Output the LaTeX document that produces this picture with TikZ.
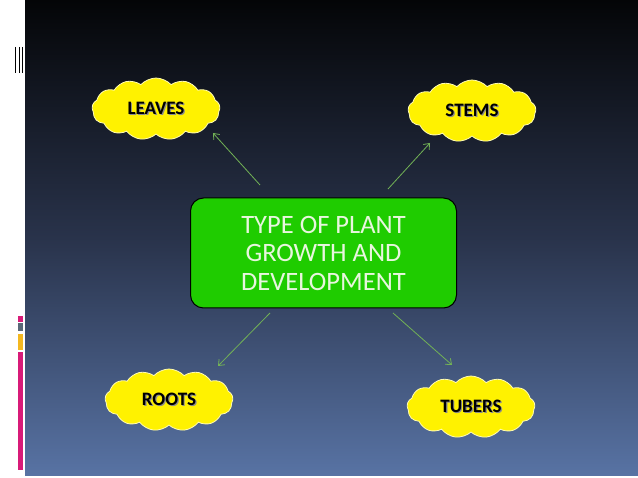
\documentclass[tikz,border=0pt]{standalone}
\usepackage{fontspec}
\setmainfont{Carlito}
\usetikzlibrary{shapes.symbols,arrows.meta}
\definecolor{bgtop}{HTML}{040507}
\definecolor{bgmid}{HTML}{29334B}
\definecolor{bgbot}{HTML}{5873A4}
\definecolor{boxgreen}{HTML}{1FCC00}
\definecolor{boxtext}{HTML}{E8F6DE}
\definecolor{arrowgreen}{HTML}{72B256}
\definecolor{barpink}{HTML}{D81B78}
\definecolor{bargrey}{HTML}{5A6878}
\definecolor{barorange}{HTML}{F4B820}
\newcommand\shtxt[1]{\makebox[0pt][l]{\raisebox{-1.2pt}{\hspace{1.2pt}\textcolor{black!45}{#1}}}#1}
\tikzset{
  puffy/.style={cloud, cloud puffs=13, cloud puff arc=95, aspect=2,
    fill=yellow, draw=yellow!30!white, line width=0.8pt,
    minimum width=128pt, minimum height=62pt, inner sep=0pt,
    font=\fontsize{19}{22}\selectfont\bfseries, text=black},
  mainbox/.style={rectangle, rounded corners=13pt, fill=boxgreen, draw=black, line width=1pt,
    minimum width=266pt, minimum height=110pt, align=center, text=boxtext,
    font=\fontsize{26.5}{28.5}\selectfont},
  link/.style={draw=arrowgreen, line width=0.8pt, -{Straight Barb[length=5pt,width=8pt]}}
}
\begin{document}
\begin{tikzpicture}[x=1pt,y=-1pt]
\useasboundingbox (0,0) rectangle (638,478);
\fill[white] (0,0) rectangle (638,478);
\shade[top color=bgtop, bottom color=bgbot, middle color=bgmid] (25,0) rectangle (638,476);
% left decorations
\foreach \xx in {15.5,19,22.5} \draw[black, line width=1pt] (\xx,47) -- (\xx,73);
\fill[barpink] (17.5,316.5) rectangle (23,322);
\fill[bargrey] (17.5,323.5) rectangle (23,331.5);
\fill[barorange] (17.5,334) rectangle (23,350);
\fill[barpink] (17.5,352) rectangle (23,470);
% nodes
\node[mainbox] (core) at (323.5,253) {TYPE OF PLANT\\GROWTH AND\\DEVELOPMENT};
\node[puffy] (leaves) at (156,109) {\shtxt{LEAVES}\hspace{10pt}};
\node[puffy] (stems) at (472,111) {\shtxt{STEMS}\hspace{4pt}};
\node[puffy] (roots) at (169,400) {\shtxt{ROOTS}\hspace{10pt}};
\node[puffy] (tubers) at (471,407) {\shtxt{TUBERS}\hspace{4pt}};
% arrow start points
\coordinate (s1) at (260,185);
\coordinate (e1) at (213,133);
\coordinate (s2) at (388,189);
\coordinate (e2) at (430,143);
\coordinate (s3) at (270,313);
\coordinate (e3) at (218,366);
\coordinate (s4) at (393,313);
\coordinate (e4) at (452,365);
\draw[link] (s1) -- (e1);
\draw[link] (s2) -- (e2);
\draw[link] (s3) -- (e3);
\draw[link] (s4) -- (e4);
\end{tikzpicture}
\end{document}
